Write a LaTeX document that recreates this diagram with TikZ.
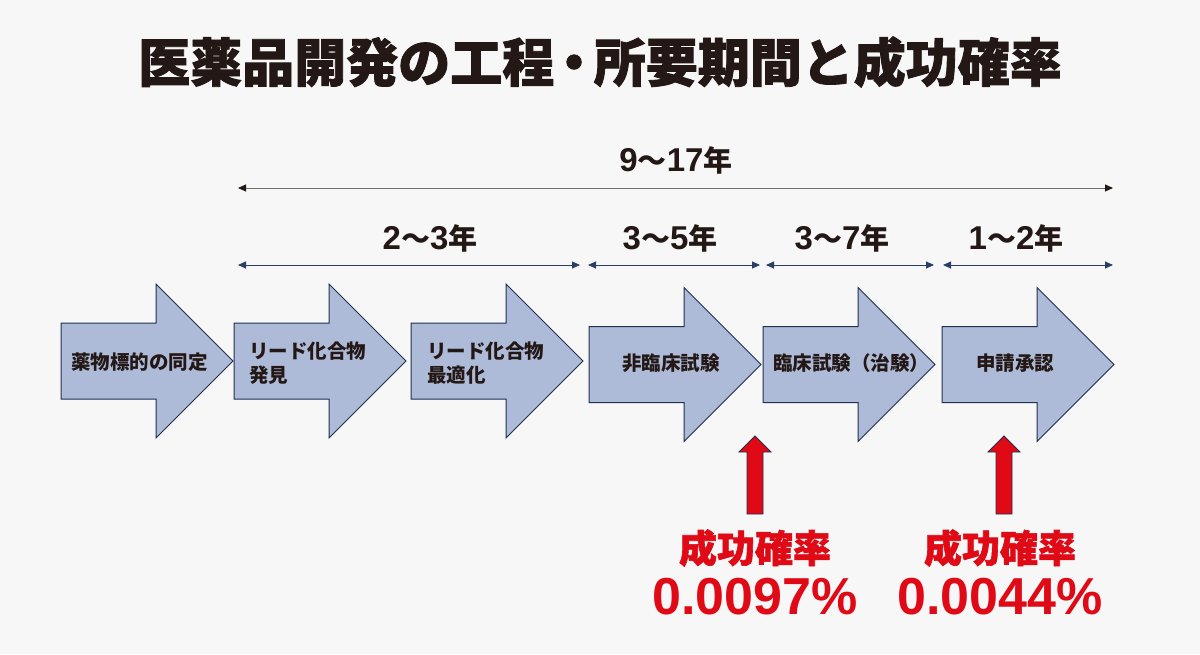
\documentclass[tikz,border=0pt]{standalone}
\usepackage{fontspec}
\setmainfont{Liberation Sans}
\newfontfamily\jp{Noto Sans CJK JP}
\newfontfamily\jpheavy{Noto Sans CJK JP}[BoldFeatures={FakeBold=1.6}]
\usetikzlibrary{arrows.meta}
\definecolor{bg}{HTML}{F7F7F7}
\definecolor{afill}{HTML}{ADBAD8}
\definecolor{aline}{HTML}{1F3050}
\definecolor{ink}{HTML}{231815}
\definecolor{redc}{HTML}{E00A16}
\definecolor{dimnavy}{HTML}{2A3F66}
\definecolor{dimgray}{HTML}{707070}
\newcommand\procarrow[3]{%
  \draw[procshape] (#2,#3-38) -- (#2+95,#3-38) -- (#2+95,#3-77) -- (#2+172,#3)
    -- (#2+95,#3+77) -- (#2+95,#3+38) -- (#2,#3+38) -- cycle;
  \coordinate (#1) at (#2,#3);}
\newcommand\redup[2]{%
  \draw[redshape] (#1-8,#2+78) -- (#1-8,#2+16) -- (#1-16,#2+16) -- (#1,#2)
    -- (#1+16,#2+16) -- (#1+8,#2+16) -- (#1+8,#2+78) -- cycle;}
\newcommand\yrs[2]{{\fontsize{33}{36}\selectfont\bfseries #1{\jp\fontsize{29}{32}\selectfont ～}#2{\jp\fontsize{29}{32}\selectfont 年}}}
\begin{document}
\begin{tikzpicture}[x=1pt,y=-1pt,
  procshape/.style={fill=afill,draw=aline,line width=1pt,line join=miter},
  redshape/.style={fill=redc,draw=aline,line width=0.8pt},
  steplabel/.style={inner sep=0pt,text=ink,font=\jp\bfseries\fontsize{19.5}{24}\selectfont,align=left},
  yearlabel/.style={inner sep=0pt,text=ink},
  dimtop/.style={draw=dimgray,line width=0.9pt,{Triangle[length=8pt,width=7pt,fill=ink,color=ink]}-{Triangle[length=8pt,width=7pt,fill=ink,color=ink]}},
  dimsub/.style={draw=dimnavy,line width=0.9pt,{Triangle[length=8pt,width=7pt]}-{Triangle[length=8pt,width=7pt]}},
  ratehead/.style={inner sep=0pt,text=redc,font=\jpheavy\bfseries\fontsize{38}{42}\selectfont},
  ratenum/.style={inner sep=0pt,text=redc,font=\bfseries\fontsize{52}{56}\selectfont}
]
\fill[bg] (0,0) rectangle (1200,654);
\useasboundingbox (0,0) rectangle (1200,654);

% title
\node[inner sep=0pt,text=ink,font=\jpheavy\bfseries\fontsize{52}{56}\selectfont] (title) at (600,62) {医薬品開発の工程\kern-0.12em・\kern-0.12em 所要期間と成功確率};

% process arrows
\procarrow{a1}{61}{361}
\procarrow{a2}{234}{361}
\procarrow{a3}{411}{361}
\procarrow{a4}{589}{364.5}
\procarrow{a5}{763}{364.5}
\procarrow{a6}{942}{364.5}

\node[steplabel,anchor=west] (l1) at (71,362) {薬物標的の同定};
\node[steplabel,anchor=west] (l2) at (249,363) {リード化合物\\発見};
\node[steplabel,anchor=west] (l3) at (427,363) {リード化合物\\最適化};
\node[steplabel] (l4) at (671,363) {非臨床試験};
\node[steplabel] (l5) at (851,363) {臨床試験（治験）};
\node[steplabel] (l6) at (1015,363) {申請承認};

% dimension lines
\coordinate (t0) at (238,188);
\coordinate (t1) at (1113,188);
\draw[dimtop] (t0) -- (t1);
\node[yearlabel] (y0) at (676,160) {\yrs{9}{17}};

\coordinate (s0) at (238,265);
\coordinate (s1) at (580,265);
\coordinate (s2) at (588,265);
\coordinate (s3) at (760,265);
\coordinate (s4) at (766,265);
\coordinate (s5) at (934,265);
\coordinate (s6) at (943,265);
\coordinate (s7) at (1113,265);
\draw[dimsub] (s0) -- (s1);
\draw[dimsub] (s2) -- (s3);
\draw[dimsub] (s4) -- (s5);
\draw[dimsub] (s6) -- (s7);
\node[yearlabel] (y1) at (430,238) {\yrs{2}{3}};
\node[yearlabel] (y2) at (670,238) {\yrs{3}{5}};
\node[yearlabel] (y3) at (842,238) {\yrs{3}{7}};
\node[yearlabel] (y4) at (1016,238) {\yrs{1}{2}};

% success-rate markers
\redup{755}{436}
\redup{1004}{436}
\node[ratehead] (r1) at (755,548) {成功確率};
\node[ratenum] (n1) at (755,597) {0.0097\%};
\node[ratehead] (r2) at (1000,548) {成功確率};
\node[ratenum] (n2) at (1000,597) {0.0044\%};
\end{tikzpicture}
\end{document}
